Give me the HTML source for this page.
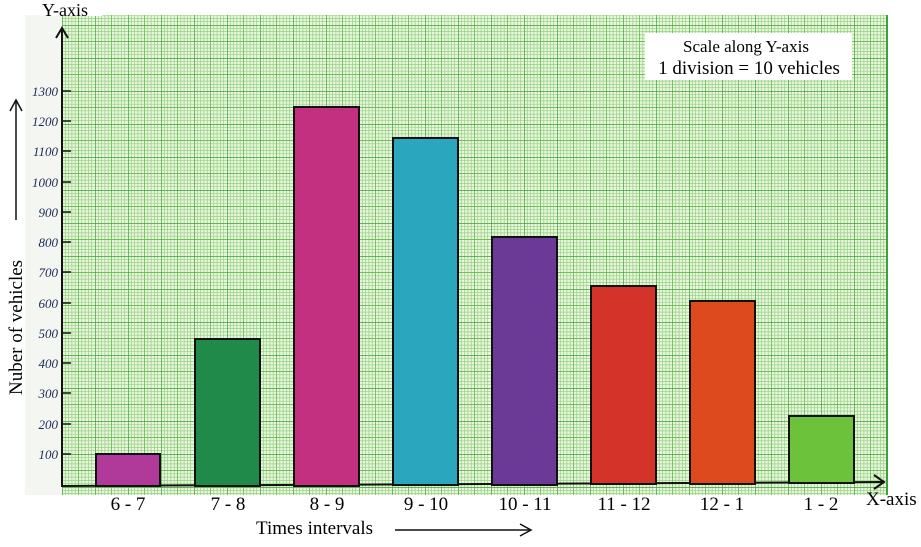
<!DOCTYPE html>
<html><head><style>
body{margin:0;background:#fff;width:921px;height:542px;overflow:hidden}
svg text{font-family:"Liberation Serif",serif}
</style></head><body>
<svg width="921" height="542" xmlns="http://www.w3.org/2000/svg">
<defs>
<pattern id="g" x="62" y="487" width="33" height="33" patternUnits="userSpaceOnUse">
<rect width="33" height="33" fill="#e8f6dc"/>
<path d="M3.3 0V33M6.6 0V33M9.9 0V33M13.2 0V33M19.8 0V33M23.1 0V33M26.4 0V33M29.7 0V33M0 3.3H33M0 6.6H33M0 9.9H33M0 13.2H33M0 19.8H33M0 23.1H33M0 26.4H33M0 29.7H33" stroke="#95d083" stroke-width="0.7"/>
<path d="M16.5 0V33M0 16.5H33" stroke="#72bd5e" stroke-width="0.9"/>
<path d="M0 0V33M0 0H33" stroke="#3f9f38" stroke-width="1.4"/>
</pattern>
</defs>
<rect x="25" y="15" width="37" height="480" fill="#f4f6f2"/>
<rect x="62" y="15" width="825" height="480" fill="url(#g)"/>
<rect x="886" y="15" width="2" height="480" fill="#3f9f38"/>
<rect x="645" y="33" width="207" height="47" fill="#fff"/>
<text x="746" y="52" font-size="17" text-anchor="middle">Scale along Y-axis</text>
<text x="749" y="74" font-size="19" text-anchor="middle">1 division = 10 vehicles</text>
<rect x="40" y="0" width="62" height="16" fill="#fff"/>
<text x="42" y="16" font-size="18">Y-axis</text>
<line x1="62" y1="28" x2="62" y2="487" stroke="#111" stroke-width="2"/>
<path d="M56 38L62 28L68 38" fill="none" stroke="#111" stroke-width="2"/>
<line x1="62" y1="486" x2="884" y2="482" stroke="#111" stroke-width="2"/>
<path d="M874 475L884 482L874 489" fill="none" stroke="#111" stroke-width="2"/>
<g stroke="#111" stroke-width="1.5">
<path d="M62 454h9M62 424h9M62 393h9M62 363h9M62 333h9M62 303h9M62 272h9M62 242h9M62 212h9M62 182h9M62 151h9M62 121h9M62 91h9"/>
</g>
<g font-size="13" fill="#1b2a55" font-style="italic" text-anchor="end">
<text x="58" y="459">100</text><text x="58" y="429">200</text><text x="58" y="398">300</text><text x="58" y="368">400</text><text x="58" y="338">500</text><text x="58" y="308">600</text><text x="58" y="277">700</text><text x="58" y="247">800</text><text x="58" y="217">900</text><text x="58" y="187">1000</text><text x="58" y="156">1100</text><text x="58" y="126">1200</text><text x="58" y="96">1300</text>
</g>
<g stroke="#111" stroke-width="2">
<rect x="96" y="454" width="64" height="32" fill="#b03a9a"/>
<rect x="195" y="339" width="65" height="147" fill="#1f8a4a"/>
<rect x="294" y="107" width="65" height="379" fill="#c2307f"/>
<rect x="393" y="138" width="65" height="347" fill="#2aa7bf"/>
<rect x="492" y="237" width="65" height="248" fill="#6a3a96"/>
<rect x="591" y="286" width="65" height="198" fill="#d4332a"/>
<rect x="690" y="301" width="65" height="183" fill="#dd4a1e"/>
<rect x="789" y="416" width="65" height="67" fill="#6cc23a"/>
</g>
<g font-size="19" text-anchor="middle">
<text x="128" y="510">6 - 7</text><text x="228" y="510">7 - 8</text><text x="327" y="510">8 - 9</text><text x="426" y="510">9 - 10</text><text x="525" y="510">10 - 11</text><text x="624" y="510">11 - 12</text><text x="722" y="510">12 - 1</text><text x="821" y="510">1 - 2</text>
</g>
<text x="866" y="505" font-size="19">X-axis</text>
<text x="256" y="534" font-size="19">Times intervals</text>
<line x1="395" y1="530" x2="530" y2="530" stroke="#111" stroke-width="1.5"/>
<path d="M520 524L531 530L520 536" fill="none" stroke="#111" stroke-width="1.5"/>
<text transform="translate(22,395) rotate(-90)" font-size="19">Nuber of vehicles</text>
<line x1="16" y1="220" x2="16" y2="100" stroke="#111" stroke-width="1.5"/>
<path d="M10 111L16 100L22 111" fill="none" stroke="#111" stroke-width="1.5"/>
</svg>
</body></html>
